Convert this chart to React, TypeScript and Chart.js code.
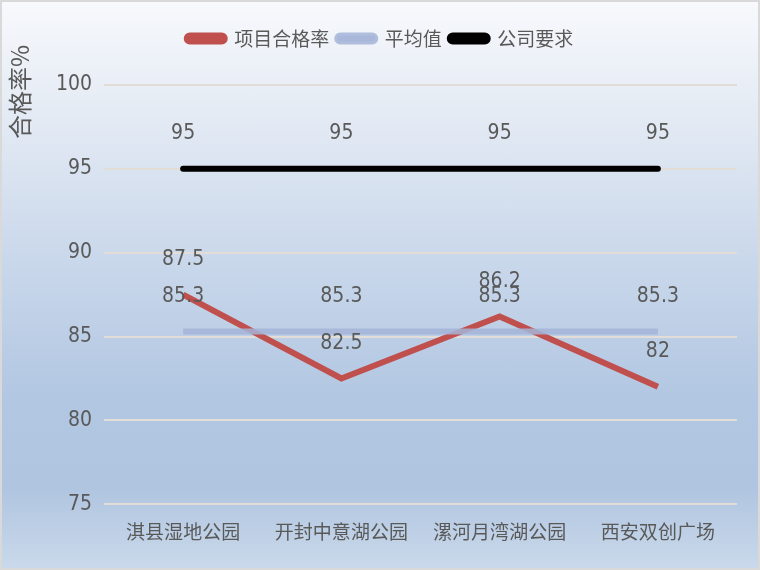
import { useEffect, useRef } from 'react'
import { Chart, registerables } from 'chart.js'
import type { Plugin } from 'chart.js'

Chart.register(...registerables)

// chart data
const categories = ['淇县湿地公园', '开封中意湖公园', '漯河月湾湖公园', '西安双创广场']
const passRate = [87.5, 82.5, 86.2, 82]
const average = [85.3, 85.3, 85.3, 85.3]
const requirement = [95, 95, 95, 95]
const yMin = 75
const yMax = 100
const yStep = 5

const NUM_FONT = "'Liberation Sans Narrow', 'DejaVu Sans Condensed', 'Noto Sans CJK SC', sans-serif"
const CJK_FONT = "'Noto Sans CJK SC', sans-serif"
const TEXT_COLOR = '#595959'

// value labels above each point
const valueLabels: Plugin<'line'> = {
  id: 'valueLabels',
  afterDatasetsDraw(chart) {
    const ctx = chart.ctx
    ctx.save()
    ctx.font = `21px ${NUM_FONT}`
    ctx.fillStyle = TEXT_COLOR
    ctx.textAlign = 'center'
    ctx.textBaseline = 'middle'
    chart.data.datasets.forEach((ds, i) => {
      const meta = chart.getDatasetMeta(i)
      meta.data.forEach((pt, j) => {
        ctx.fillText(String(ds.data[j]), pt.x, pt.y - 35)
      })
    })
    ctx.restore()
  }
}

// y axis title, drawn near the top like the original
const yTitle: Plugin<'line'> = {
  id: 'yTitle',
  afterDraw(chart) {
    const ctx = chart.ctx
    ctx.save()
    ctx.translate(18, 90)
    ctx.rotate(-Math.PI / 2)
    ctx.font = `24px ${CJK_FONT}`
    ctx.fillStyle = TEXT_COLOR
    ctx.textAlign = 'center'
    ctx.textBaseline = 'middle'
    ctx.fillText('合格率%', 0, 0)
    ctx.restore()
  }
}

// extra room under the legend
const legendGap: Plugin<'line'> = {
  id: 'legendGap',
  afterInit(chart) {
    const legend = chart.legend as any
    if (!legend) return
    const fit = legend.fit
    legend.fit = function () {
      fit.call(this)
      this.height += 27
    }
  }
}

export default function App() {
  const canvasRef = useRef<HTMLCanvasElement>(null)
  const chartRef = useRef<Chart | null>(null)

  useEffect(() => {
    document.body.style.margin = '0'
    if (!canvasRef.current) return
    if (chartRef.current) chartRef.current.destroy()

    chartRef.current = new Chart(canvasRef.current, {
      type: 'line',
      data: {
        labels: categories,
        datasets: [
          {
            label: '项目合格率',
            data: passRate,
            borderColor: '#c0504d',
            backgroundColor: '#c0504d',
            borderWidth: 6,
            pointRadius: 0,
            order: 1
          },
          {
            label: '平均值',
            data: average,
            borderColor: 'rgba(165,180,215,0.85)',
            backgroundColor: '#b9c9e6',
            borderWidth: 6,
            pointRadius: 0,
            order: 0
          },
          {
            label: '公司要求',
            data: requirement,
            borderColor: '#000000',
            backgroundColor: '#000000',
            borderWidth: 6,
            borderCapStyle: 'round',
            pointRadius: 0,
            order: 2
          }
        ]
      },
      options: {
        responsive: true,
        maintainAspectRatio: false,
        animation: false,
        layout: { padding: { left: 21, right: 21, top: 19, bottom: 17 } },
        scales: {
          x: {
            offset: true,
            grid: { display: false },
            border: { display: false },
            ticks: {
              color: TEXT_COLOR,
              font: { family: CJK_FONT, size: 19 },
              padding: 8
            }
          },
          y: {
            min: yMin,
            max: yMax,
            afterFit(scale) {
              scale.width = 81
            },
            grid: { color: '#e2ddd6', lineWidth: 2, drawTicks: false },
            border: { display: false },
            ticks: {
              stepSize: yStep,
              color: TEXT_COLOR,
              font: { family: NUM_FONT, size: 21 },
              padding: 12
            }
          }
        },
        plugins: {
          legend: {
            position: 'top',
            labels: {
              sort: (a, b) => (a.datasetIndex ?? 0) - (b.datasetIndex ?? 0),
              boxWidth: 38,
              boxHeight: 6,
              useBorderRadius: true,
              borderRadius: 3,
              padding: 8,
              color: TEXT_COLOR,
              font: { family: CJK_FONT, size: 19 }
            }
          },
          tooltip: { enabled: false }
        }
      },
      plugins: [valueLabels, yTitle, legendGap]
    })

    return () => {
      if (chartRef.current) {
        chartRef.current.destroy()
        chartRef.current = null
      }
    }
  }, [])

  return (
    <div
      style={{
        width: 760,
        height: 570,
        boxSizing: 'border-box',
        border: '2px solid #d9d9d9',
        background:
          'linear-gradient(to bottom, #f7f9fc 0%, #e6ecf5 18%, #cad8eb 45%, #b2c7e2 70%, #b0c5e0 86%, #cad9eb 100%)'
      }}
    >
      <div style={{ position: 'relative', width: 756, height: 566 }}>
        <canvas ref={canvasRef}></canvas>
      </div>
    </div>
  )
}
